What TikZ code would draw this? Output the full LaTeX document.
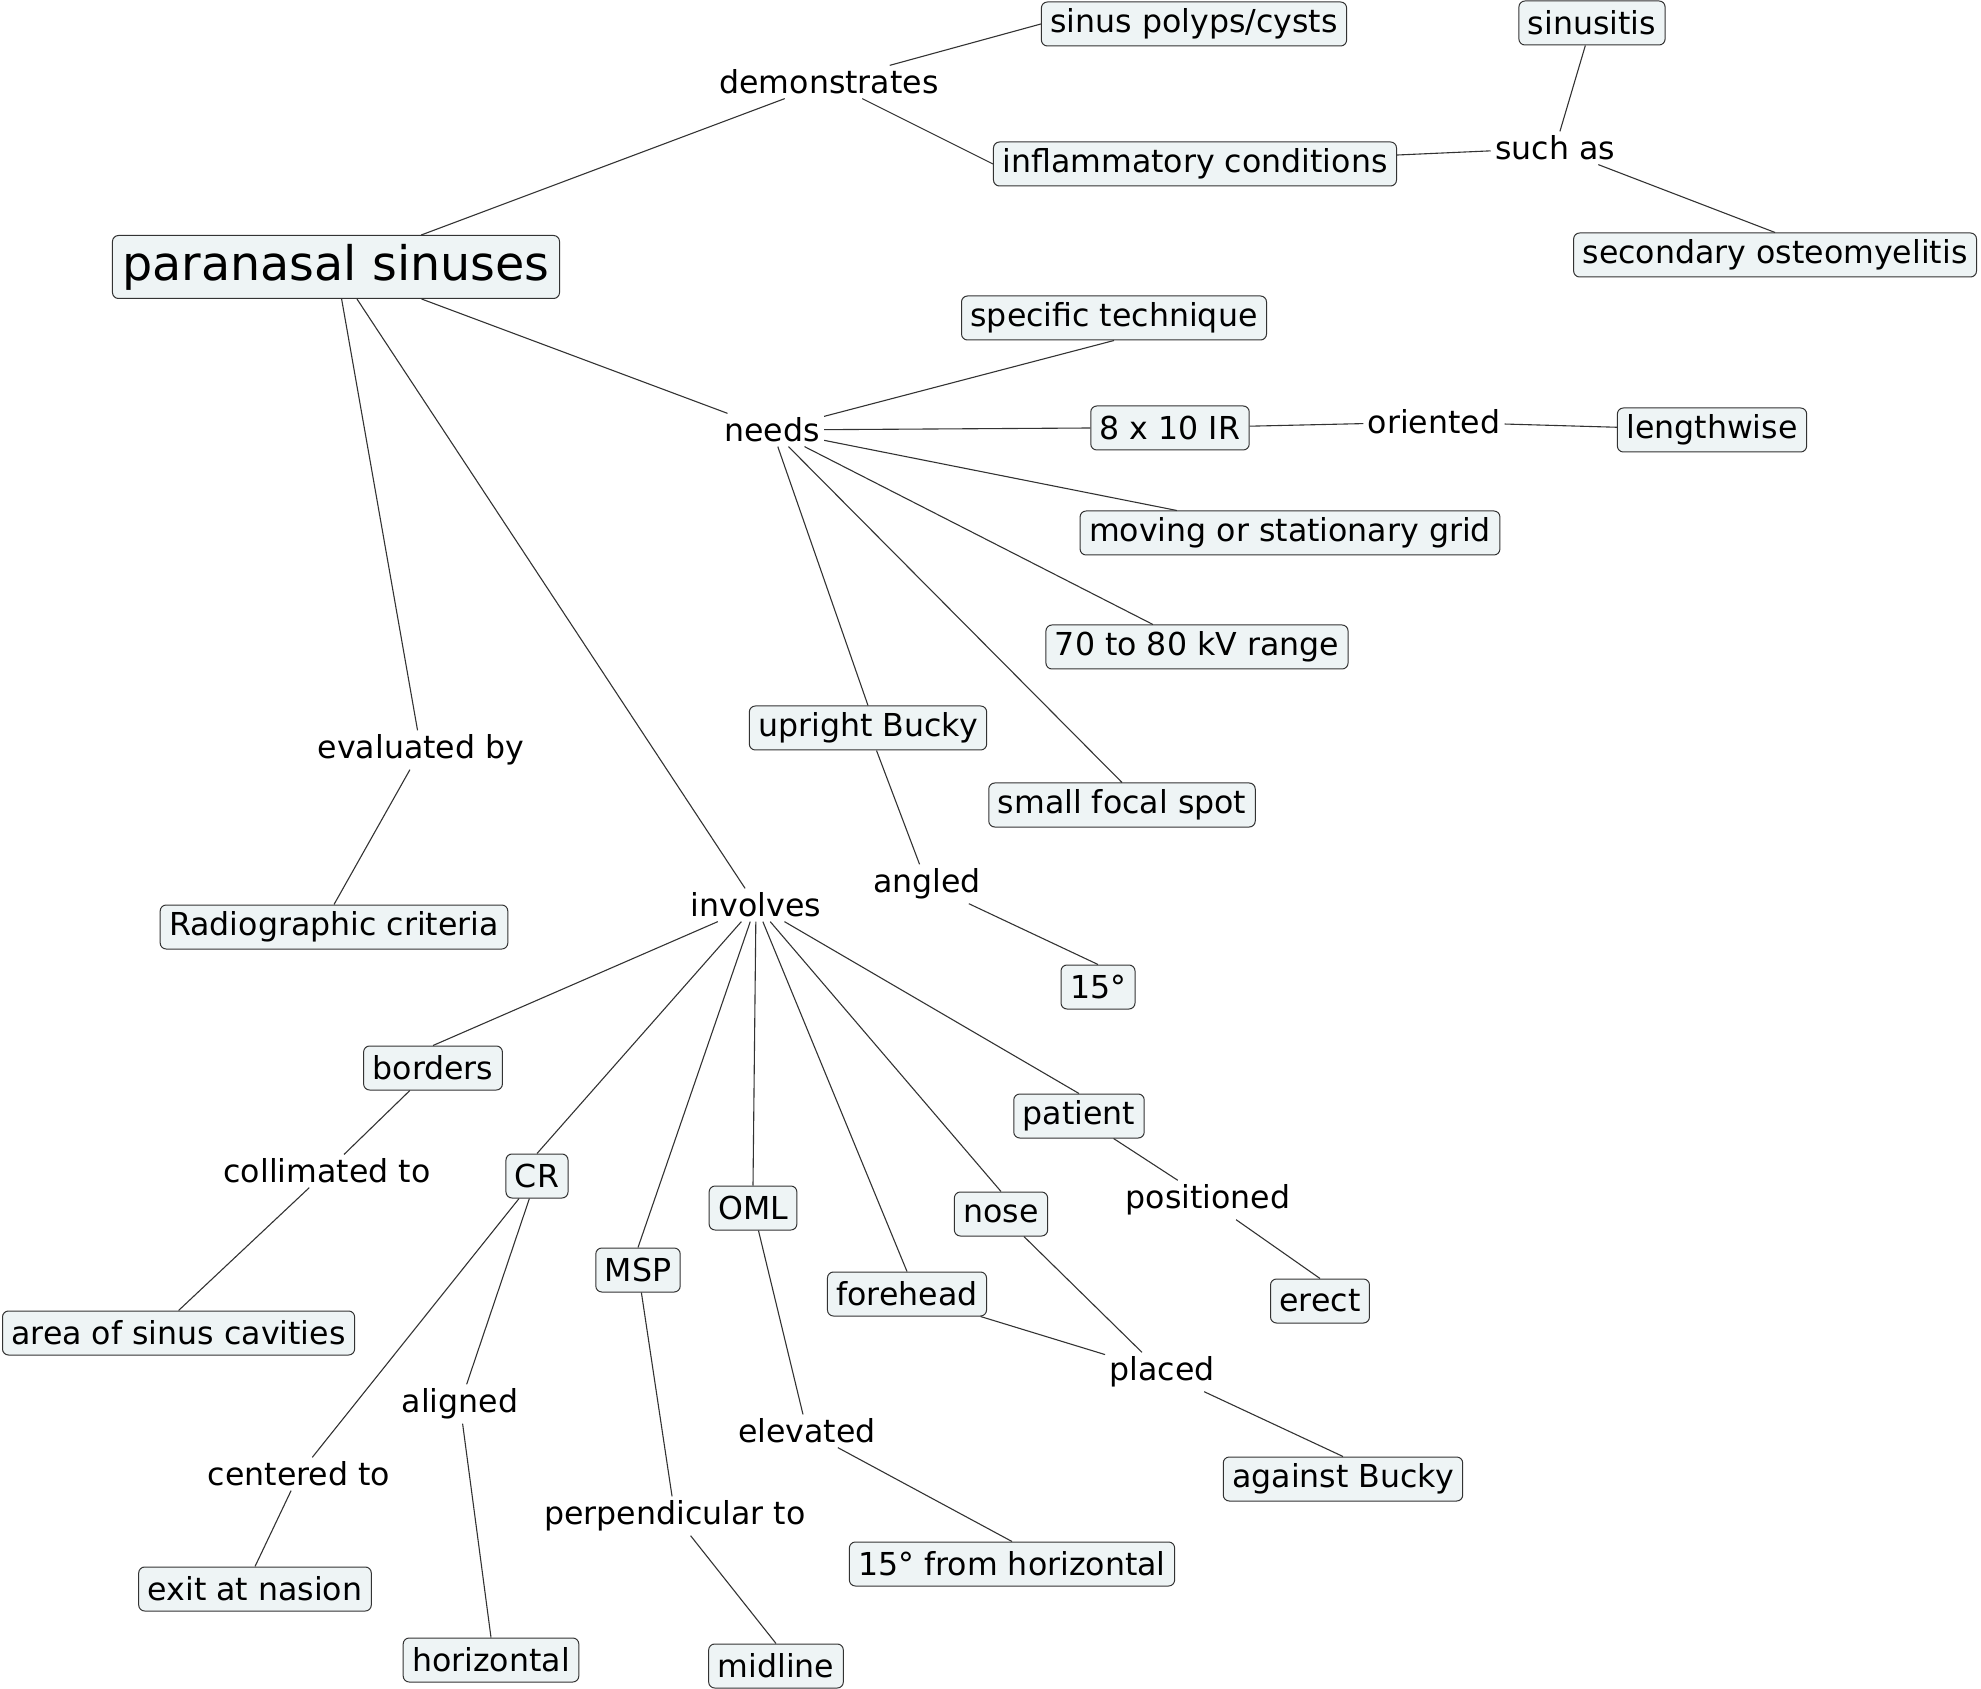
\documentclass[tikz,border=0pt]{standalone}
\usepackage{fontspec}
\setmainfont{DejaVu Sans}
\usepackage{xcolor}
\usepackage{tikz}
\usetikzlibrary{positioning}
\definecolor{conceptfill}{HTML}{EEF4F5}
\definecolor{conceptline}{HTML}{333333}

\begin{document}
\begin{tikzpicture}[
  x=0.5pt, y=-0.5pt,
  concept/.style={rectangle, rounded corners=3pt, draw=conceptline, line width=0.5pt, fill=conceptfill, inner xsep=4.5pt, inner ysep=3pt, minimum height=22pt, font=\fontsize{15.8}{18}\selectfont},
  rootconcept/.style={concept, inner xsep=5pt, minimum height=31.5pt, font=\fontsize{23.8}{28}\selectfont},
  linking/.style={inner sep=2pt, font=\fontsize{15.8}{18}\selectfont},
  link/.style={draw=black!80, line width=0.55pt}
]
  \useasboundingbox (0,0) rectangle (1981,1689);

  \node[rootconcept] (ps) at (336,267) {paranasal sinuses};
  \node[concept] (polyps) at (1194,24) {sinus polyps/cysts};
  \node[concept] (sinusitis) at (1592,23) {sinusitis};
  \node[linking] (demo) at (829,82) {demonstrates};
  \node[concept] (inflam) at (1195,164) {inflammatory conditions};
  \node[linking] (suchas) at (1555,148) {such as};
  \node[concept, anchor=east] (osteo) at (1977,255) {secondary osteomyelitis};

  \node[linking] (needs) at (772,430) {needs};
  \node[concept] (tech) at (1114,318) {specific technique};
  \node[concept] (ir) at (1170,428) {8 x 10 IR};
  \node[linking] (oriented) at (1434,422) {oriented};
  \node[concept] (length) at (1712,430) {lengthwise};
  \node[concept] (grid) at (1290,533) {moving or stationary grid};
  \node[concept] (kv) at (1197,647) {70 to 80 kV range};
  \node[concept] (bucky) at (868,728) {upright Bucky};
  \node[concept] (focal) at (1122,805) {small focal spot};
  \node[linking] (angled) at (927,884) {angled};
  \node[concept] (deg) at (1098,987) {15°};

  \node[linking] (evalby) at (421,750) {evaluated by};
  \node[concept] (criteria) at (334,927) {Radiographic criteria};

  \node[linking] (involves) at (756,905) {involves};
  \node[concept] (borders) at (433,1068) {borders};
  \node[linking] (collim) at (327,1171) {collimated to};
  \node[concept, anchor=west] (area) at (2,1333) {area of sinus cavities};
  \node[concept] (cr) at (537,1176) {CR};
  \node[linking] (aligned) at (460,1404) {aligned};
  \node[concept] (horiz) at (491,1660) {horizontal};
  \node[linking] (centered) at (299,1474) {centered to};
  \node[concept] (nasion) at (255,1589) {exit at nasion};
  \node[concept] (msp) at (638,1270) {MSP};
  \node[linking] (perp) at (675,1516) {perpendicular to};
  \node[concept] (midline) at (776,1666) {midline};
  \node[concept] (oml) at (753,1208) {OML};
  \node[linking] (elevated) at (807,1431) {elevated};
  \node[concept] (fromhoriz) at (1012,1564) {15° from horizontal};
  \node[concept] (forehead) at (907,1294) {forehead};
  \node[concept] (nose) at (1001,1214) {nose};
  \node[linking] (placed) at (1162,1372) {placed};
  \node[concept] (against) at (1343,1479) {against Bucky};
  \node[concept] (patient) at (1079,1116) {patient};
  \node[linking] (positioned) at (1208,1200) {positioned};
  \node[concept] (erect) at (1320,1301) {erect};

  \draw[link] (ps) -- (demo);
  \draw[link] (demo) -- (polyps.west);
  \draw[link] (demo) -- (inflam.west);
  \draw[link] (inflam) -- (suchas);
  \draw[link] (suchas) -- (sinusitis);
  \draw[link] (suchas) -- (osteo.north);

  \draw[link] (ps) -- (needs);
  \draw[link] (needs) -- (tech.south);
  \draw[link] (needs) -- (ir.west);
  \draw[link] (ir) -- (oriented);
  \draw[link] (oriented) -- (length);
  \draw[link] (needs) -- (grid);
  \draw[link] (needs) -- (kv);
  \draw[link] (needs) -- (bucky.north);
  \draw[link] (needs) -- (focal.north);
  \draw[link] (bucky) -- (angled);
  \draw[link] (angled) -- (deg.north);

  \draw[link] (ps) -- (evalby);
  \draw[link] (evalby) -- (criteria.north);

  \draw[link] (ps) -- (involves);
  \draw[link] (involves) -- (borders.north);
  \draw[link] (borders) -- (collim);
  \draw[link] (collim) -- (area.north);
  \draw[link] (involves) -- (cr.north);
  \draw[link] (cr) -- (aligned);
  \draw[link] (aligned) -- (horiz.north);
  \draw[link] (cr) -- (centered);
  \draw[link] (centered) -- (nasion.north);
  \draw[link] (involves) -- (msp.north);
  \draw[link] (msp) -- (perp);
  \draw[link] (perp) -- (midline.north);
  \draw[link] (involves) -- (oml.north);
  \draw[link] (oml) -- (elevated);
  \draw[link] (elevated) -- (fromhoriz.north);
  \draw[link] (involves) -- (forehead.north);
  \draw[link] (involves) -- (nose.north);
  \draw[link] (forehead) -- (placed);
  \draw[link] (nose) -- (placed);
  \draw[link] (placed) -- (against.north);
  \draw[link] (involves) -- (patient.north);
  \draw[link] (patient) -- (positioned);
  \draw[link] (positioned) -- (erect.north);
\end{tikzpicture}
\end{document}
